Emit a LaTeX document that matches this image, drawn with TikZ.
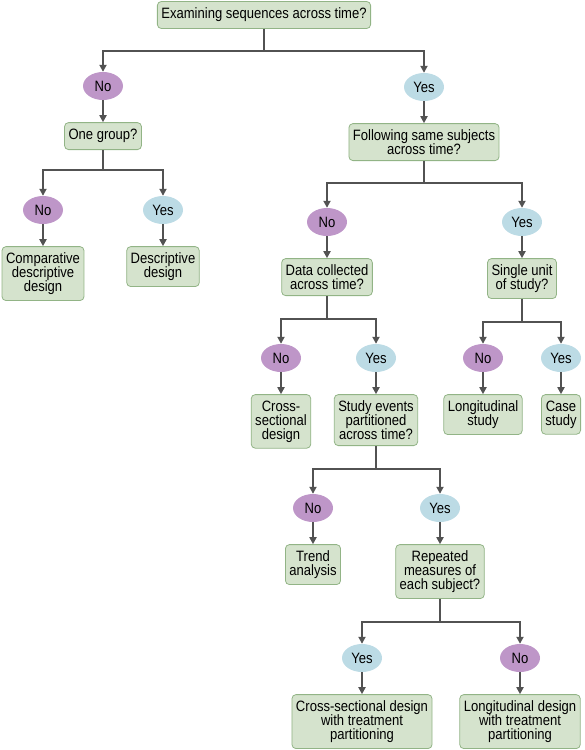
\documentclass[tikz,border=0pt]{standalone}
\usepackage{fontspec}
\setmainfont{Liberation Sans}[FakeStretch=0.87]
\usetikzlibrary{positioning, shapes.geometric, arrows.meta}

\definecolor{boxfill}{RGB}{213,227,205}
\definecolor{boxline}{RGB}{146,180,134}
\definecolor{nofill}{RGB}{190,150,200}
\definecolor{yesfill}{RGB}{188,219,229}
\definecolor{wire}{RGB}{82,82,82}

\begin{document}
\begin{tikzpicture}[x=1pt, y=-1pt,
  cell/.style={rectangle, rounded corners=4pt, draw=boxline, fill=boxfill, line width=0.8pt, align=center, inner xsep=4pt, inner ysep=6pt, minimum height=27pt, font=\fontsize{15}{14}\selectfont},
  answerno/.style={ellipse, fill=nofill, minimum width=40pt, minimum height=28pt, inner sep=0pt, font=\fontsize{15}{14}\selectfont},
  answeryes/.style={answerno, fill=yesfill},
  link/.style={->, >={Triangle[length=7pt,width=7pt]}, draw=wire, line width=2.4pt}]

\useasboundingbox (0,0) rectangle (584,750);

\node[cell] at (264,15) (seq) {Examining sequences across time?};

\node[answerno] at (103,86) (no1) {No};
\node[answeryes] at (424,87) (yes1) {Yes};

\node[cell, below = 22pt of no1] (group) {One group?};
\node[cell, below = 22pt of yes1] (same) {Following same subjects\\across time?};

\node[answerno] at (43,210) (no2) {No};
\node[answeryes] at (163,210) (yes2) {Yes};

\node[cell, below = 22pt of no2] (compdesc) {Comparative\\descriptive\\design};
\node[cell, below = 22pt of yes2] (desc) {Descriptive\\design};

\node[answerno] at (327,222) (no3) {No};
\node[answeryes] at (522,222) (yes3) {Yes};

\node[cell, below = 22pt of no3] (collected) {Data collected\\across time?};
\node[cell, below = 22pt of yes3] (single) {Single unit\\of study?};

\node[answerno] at (281,358) (no4) {No};
\node[answeryes] at (376,358) (yes4) {Yes};
\node[answerno] at (483,358) (no5) {No};
\node[answeryes] at (561,358) (yes5) {Yes};

\node[cell, below = 22pt of no4] (cross) {Cross-\\sectional\\design};
\node[cell, below = 22pt of yes4] (events) {Study events\\partitioned\\across time?};
\node[cell, below = 22pt of no5] (longit) {Longitudinal\\study};
\node[cell, below = 22pt of yes5] (casestudy) {Case\\study};

\node[answerno] at (313,508) (no6) {No};
\node[answeryes] at (440,508) (yes6) {Yes};

\node[cell, below = 22pt of no6] (trend) {Trend\\analysis};
\node[cell, below = 22pt of yes6] (repeated) {Repeated\\measures of\\each subject?};

\node[answeryes] at (362,658) (yes7) {Yes};
\node[answerno] at (520,658) (no7) {No};

\node[cell, below = 22pt of yes7] (crosstreat) {Cross-sectional design\\with treatment\\partitioning};
\node[cell, below = 22pt of no7] (longtreat) {Longitudinal design\\with treatment\\partitioning};

\draw[link] (seq.south) -- ++(0,22) -| (no1);
\draw[link] (seq.south) -- ++(0,22) -| (yes1);
\draw[link] (no1) -- (group);
\draw[link] (yes1) -- (same);

\draw[link] (group.south) -- ++(0,20) -| (no2);
\draw[link] (group.south) -- ++(0,20) -| (yes2);
\draw[link] (no2) -- (compdesc);
\draw[link] (yes2) -- (desc);

\draw[link] (same.south) -- ++(0,22) -| (no3);
\draw[link] (same.south) -- ++(0,22) -| (yes3);
\draw[link] (no3) -- (collected);
\draw[link] (yes3) -- (single);

\draw[link] (collected.south) -- ++(0,23) -| (no4);
\draw[link] (collected.south) -- ++(0,23) -| (yes4);
\draw[link] (single.south) -- ++(0,23) -| (no5);
\draw[link] (single.south) -- ++(0,23) -| (yes5);
\draw[link] (no4) -- (cross);
\draw[link] (yes4) -- (events);
\draw[link] (no5) -- (longit);
\draw[link] (yes5) -- (casestudy);

\draw[link] (events.south) -- ++(0,23) -| (no6);
\draw[link] (events.south) -- ++(0,23) -| (yes6);
\draw[link] (no6) -- (trend);
\draw[link] (yes6) -- (repeated);

\draw[link] (repeated.south) -- ++(0,23) -| (yes7);
\draw[link] (repeated.south) -- ++(0,23) -| (no7);
\draw[link] (yes7) -- (crosstreat);
\draw[link] (no7) -- (longtreat);
\end{tikzpicture}
\end{document}
